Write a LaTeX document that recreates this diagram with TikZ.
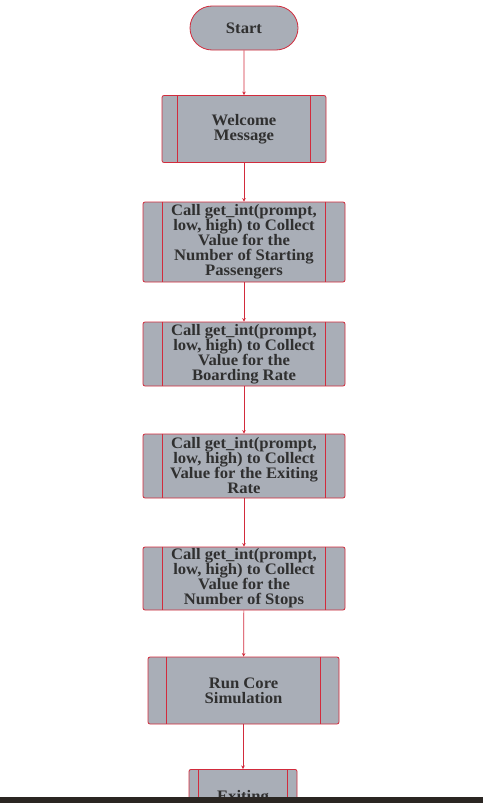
\documentclass[tikz,border=0pt]{standalone}
\usepackage{fontspec}
\setmainfont[FakeStretch=1.04]{Liberation Serif}
\usetikzlibrary{arrows.meta,shapes.misc}
\definecolor{boxred}{HTML}{D22B3C}
\definecolor{boxfill}{HTML}{A9AEB7}
\definecolor{txt}{HTML}{303030}
\definecolor{barcol}{HTML}{2A2622}
\tikzset{
  lbl/.style={font=\bfseries\fontsize{16}{15}\selectfont, text=txt},
  terminal/.style={rounded rectangle, draw=boxred, fill=boxfill, line width=0.8pt,
    minimum width=108pt, minimum height=44pt, inner sep=0pt, lbl},
  procbox/.style={rectangle, rounded corners=2pt, draw=boxred, fill=boxfill, line width=0.8pt,
    inner sep=0pt, align=center, lbl},
  inner/.style={draw=boxred, line width=0.8pt},
  flow/.style={draw=boxred, line width=0.7pt, -{Stealth[length=3.5pt,width=3.5pt]}}
}
\begin{document}
\begin{tikzpicture}[x=1pt,y=1pt]
\useasboundingbox (0,0) rectangle (483,-803);
\fill[white] (0,0) rectangle (483,-803);
\node[terminal] (start) at (244,-28) {Start};
\node[procbox, minimum width=164pt, minimum height=67pt] (welcome) at (244,-129) {Welcome\\Message};
\node[procbox, minimum width=202pt, minimum height=80pt] (pass) at (244,-242) {Call get\_int(prompt,\\low, high) to Collect\\Value for the\\Number of Starting\\Passengers};
\node[procbox, minimum width=202pt, minimum height=64pt] (board) at (244,-354) {Call get\_int(prompt,\\low, high) to Collect\\Value for the\\Boarding Rate};
\node[procbox, minimum width=202pt, minimum height=64pt] (exitr) at (244,-466) {Call get\_int(prompt,\\low, high) to Collect\\Value for the Exiting\\Rate};
\node[procbox, minimum width=202pt, minimum height=63pt] (stops) at (244,-578.5) {Call get\_int(prompt,\\low, high) to Collect\\Value for the\\Number of Stops};
\node[procbox, minimum width=191pt, minimum height=67pt] (run) at (243.5,-690.5) {Run Core\\Simulation};
\node[procbox, minimum width=108pt, minimum height=50pt, anchor=north] (exiting) at (243,-769) {};
\node[lbl, anchor=base] (exitlbl) at (243,-801) {Exiting};
% inner lines
\foreach \n/\d in {welcome/16,pass/20,board/20,exitr/20,stops/20,run/19,exiting/10}{
  \draw[inner] ([xshift=\d pt]\n.north west) -- ([xshift=\d pt]\n.south west);
  \draw[inner] ([xshift=-\d pt]\n.north east) -- ([xshift=-\d pt]\n.south east);
}
% connectors
\draw[flow] (start) -- (welcome);
\draw[flow] (welcome) -- (pass);
\draw[flow] (pass) -- (board);
\draw[flow] (board) -- (exitr);
\draw[flow] (exitr) -- (stops);
\draw[flow] (stops) -- (run);
\draw[flow] (run.south -| exiting.north) -- (exiting.north);
% bottom bar
\fill[barcol] (0,-797) rectangle (483,-803);
\end{tikzpicture}
\end{document}
